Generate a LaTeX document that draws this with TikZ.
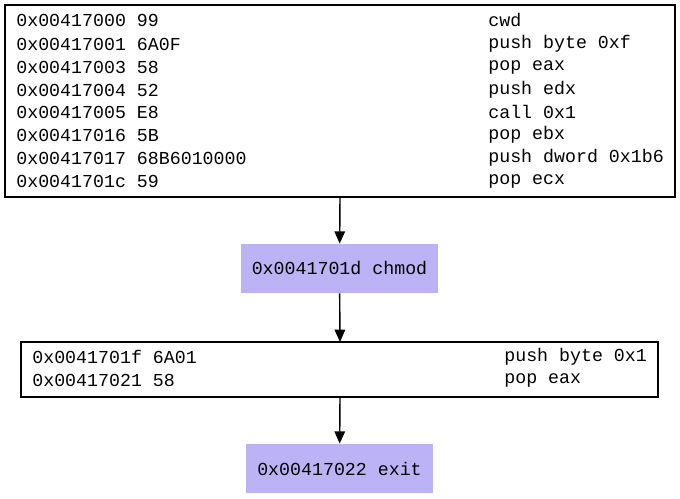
\documentclass[tikz,border=0pt]{standalone}
\usepackage{fontspec}
\setmonofont{Liberation Mono}
\usetikzlibrary{arrows.meta,positioning}
\definecolor{blockfill}{HTML}{BBB3F5}
\begin{document}
\begin{tikzpicture}[x=0.02cm, y=-0.02cm,
                    every node/.style={font=\ttfamily\fontsize{10.4}{12}\selectfont, inner sep=0pt, anchor=west},
                    frame/.style={draw, thick, fill=white},
                    call/.style={fill=blockfill, minimum width=3.94cm, minimum height=0.98cm, anchor=center},
                    arrow/.style={thick, -{Triangle[length=7pt, width=6pt]}}]
\useasboundingbox (0,0) rectangle (680,499);

% First block
\draw[frame] (5,5) rectangle (675,197);
\coordinate (top1) at (340,5);
\coordinate (bot1) at (340,197);
\foreach \y/\a/\b [count=\i] in {20/0x00417000 99/cwd, 44/0x00417001 6A0F/push byte 0xf,
        67/0x00417003 58/pop eax, 90/0x00417004 52/push edx, 112/0x00417005 E8/call 0x1,
        135/0x00417016 5B/pop ebx, 158/0x00417017 68B6010000/push dword 0x1b6, 181/0x0041701c 59/pop ecx} {
    \node (a\i) at (16,\y) {\a};
    \node (b\i) at (488,\y) {\b};
}

% chmod
\node[call] (chmod) at (339.5,268.5) {0x0041701d chmod};
\draw[arrow] (bot1) -- (chmod);

% Second block
\draw[frame] (21,342) rectangle (658,397);
\coordinate (top2) at (340,342);
\coordinate (bot2) at (340,397);
\node (c1) at (32,357) {0x0041701f 6A01};
\node (d1) at (504,357) {push byte 0x1};
\node (c2) at (32,380) {0x00417021 58};
\node (d2) at (504,380) {pop eax};
\draw[arrow] (chmod) -- (top2);

% exit
\node[call, minimum width=3.74cm] (exit) at (339.5,468.5) {0x00417022 exit};
\draw[arrow] (bot2) -- (exit);

\end{tikzpicture}
\end{document}
